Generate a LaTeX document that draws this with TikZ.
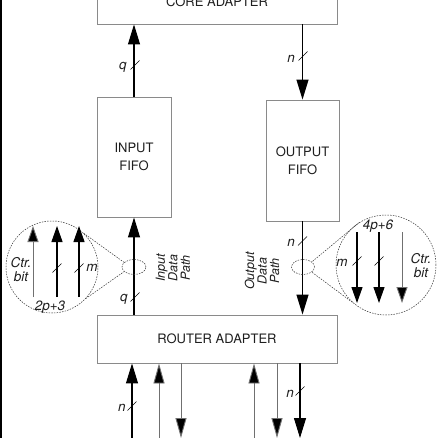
\documentclass[tikz,border=0pt]{standalone}
\usepackage{fontspec}
\setmainfont{TeX Gyre Heros}
\usetikzlibrary{arrows.meta,calc,shapes.geometric}
\definecolor{boxgray}{HTML}{8A8A8A}
\definecolor{linegray}{HTML}{707070}
\definecolor{txt}{HTML}{1E1E1E}
\tikzset{
  blockbox/.style={draw=boxgray,line width=0.9pt,rectangle,inner sep=0pt,text=txt,font=\fontsize{13}{18}\selectfont,align=center},
  bigarrow/.style={line width=1.1pt,draw=black,-{Triangle[length=20pt,width=12pt]}},
  greyarrow/.style={line width=0.9pt,draw=linegray,-{Triangle[length=20pt,width=11pt,fill=black]}},
  smallarrow/.style={line width=1.1pt,draw=black,-{Triangle[length=16pt,width=11pt]}},
  smallgrey/.style={line width=0.9pt,draw=linegray,-{Triangle[length=16pt,width=11pt,fill=black]}},
  slashmark/.style={line width=0.6pt,draw=black},
  dashline/.style={line width=0.5pt,draw=black!80,dash pattern=on 1.5pt off 1.2pt},
  lbl/.style={text=txt,font=\fontsize{13.5}{14}\selectfont\itshape,inner sep=0pt},
  pathlbl/.style={text=txt,font=\fontsize{12.5}{12.5}\selectfont\itshape,inner sep=0pt,align=center,rotate=90}
}
\newcommand{\slashat}[1]{\draw[slashmark] ($(#1)+(-4.5,4.5)$) -- ($(#1)+(4.5,-4.5)$);}
\begin{document}
\begin{tikzpicture}[x=1pt,y=-1pt]
\useasboundingbox (0,0) rectangle (438,438);
\fill[white] (0,0) rectangle (438,438);
\fill[black] (0,0) rectangle (2.2,438);

% blocks
\node[blockbox,minimum width=240pt,minimum height=44pt] (core) at (217,2) {CORE ADAPTER};
\node[blockbox,minimum width=74pt,minimum height=120pt] (infifo) at (134,157) {INPUT\\FIFO};
\node[blockbox,minimum width=73pt,minimum height=121pt] (outfifo) at (302.5,160.5) {OUTPUT\\FIFO};
\node[blockbox,minimum width=240pt,minimum height=48pt] (router) at (217,339) {ROUTER ADAPTER};

% core <-> fifos
\draw[bigarrow] (infifo.north) -- (core.south -| infifo.north);
\coordinate (sq1) at (135,65); \slashat{sq1}
\node[lbl] (q1) at (123,67) {q};
\draw[bigarrow] (core.south -| outfifo.north) -- (outfifo.north);
\coordinate (sn1) at (303,56); \slashat{sn1}
\node[lbl] (n1) at (291,59) {n};

% data paths
\draw[bigarrow] (router.north -| infifo.south) -- (infifo.south);
\coordinate (sq2) at (135,297); \slashat{sq2}
\node[lbl] (q2) at (124,299) {q};
\draw[bigarrow] (outfifo.south) -- (router.north -| outfifo.south);
\coordinate (sn2) at (302.5,241); \slashat{sn2}
\node[lbl] (n2) at (291,243) {n};

\node[pathlbl] (inlbl) at (173,268) {Input\\Data\\Path};
\node[pathlbl] (outlbl) at (262,271) {Output\\Data\\Path};

% magnifier ellipses
\node[ellipse,dashline,minimum width=24pt,minimum height=15pt,inner sep=0pt] (lell) at (134,267) {};
\node[ellipse,dashline,minimum width=23pt,minimum height=15pt,inner sep=0pt] (rell) at (303,267) {};
\node[circle,dashline,minimum size=92pt,inner sep=0pt] (lcirc) at (52,267) {};
\node[circle,dashline,minimum size=100pt,inner sep=0pt] (rcirc) at (386,265) {};
\draw[dashline] (lcirc.47) -- (lell.155);
\draw[dashline] (lcirc.-43) -- (lell.205);
\draw[dashline] (rcirc.122) -- (rell.30);
\draw[dashline] (rcirc.228) -- (rell.-30);

% left magnified arrows
\coordinate (la1s) at (33,297); \coordinate (la1e) at (33,226);
\coordinate (la2s) at (57,297); \coordinate (la2e) at (57,226);
\coordinate (la3s) at (79,297); \coordinate (la3e) at (79,226);
\draw[smallgrey] (la1s) -- (la1e);
\draw[smallarrow] (la2s) -- (la2e);
\draw[smallarrow] (la3s) -- (la3e);
\coordinate (ls2) at (57,268); \slashat{ls2}
\coordinate (ls3) at (79,268); \slashat{ls3}
\node[lbl] (lm) at (92,268) {m};
\node[lbl,align=center] (lctr) at (21,270) {Ctr.\\bit};
\node[lbl] (l2p3) at (50,307) {2p+3};

% right magnified arrows
\coordinate (ra1s) at (357,232); \coordinate (ra1e) at (357,303);
\coordinate (ra2s) at (379,232); \coordinate (ra2e) at (379,303);
\coordinate (ra3s) at (402,232); \coordinate (ra3e) at (402,303);
\draw[smallarrow] (ra1s) -- (ra1e);
\draw[smallarrow] (ra2s) -- (ra2e);
\draw[smallgrey] (ra3s) -- (ra3e);
\coordinate (rs1) at (357,261); \slashat{rs1}
\coordinate (rs2) at (379,261); \slashat{rs2}
\node[lbl] (rm) at (342,263) {m};
\node[lbl,align=center] (rctr) at (421,266) {Ctr.\\bit};
\node[lbl] (r4p6) at (378,226) {4p+6};

% bottom arrows
\coordinate (b1) at (132,438);
\coordinate (b2) at (159,438);
\coordinate (b3) at (181,438);
\coordinate (b4) at (254,438);
\coordinate (b5) at (277,438);
\coordinate (b6) at (300,438);
\draw[bigarrow] (b1) -- (router.south -| b1);
\draw[greyarrow] (b2) -- (router.south -| b2);
\draw[greyarrow] (router.south -| b3) -- (b3);
\draw[greyarrow] (b4) -- (router.south -| b4);
\draw[greyarrow] (router.south -| b5) -- (b5);
\draw[bigarrow] (router.south -| b6) -- (b6);
\coordinate (bs1) at (132,406); \slashat{bs1}
\node[lbl] (bn1) at (122,408) {n};
\coordinate (bs6) at (300,391); \slashat{bs6}
\node[lbl] (bn6) at (290,394) {n};
\end{tikzpicture}
\end{document}
